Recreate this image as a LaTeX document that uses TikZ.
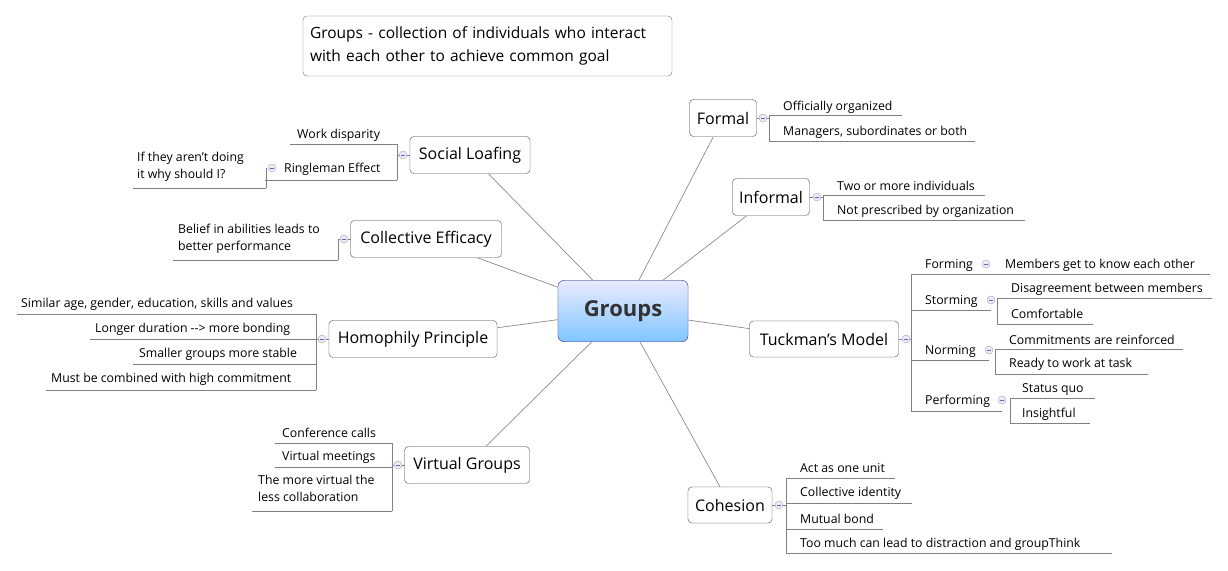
\documentclass[tikz,border=0pt]{standalone}
\usepackage{fontspec}
\setmainfont{Open Sans}
\newcommand{\apos}{{\char"27}}
\begin{document}
\begin{tikzpicture}[x=1pt,y=-1pt,
  topic/.style={draw=black!55,rounded corners=4pt,fill=white,font=\fontsize{16}{18}\selectfont,inner sep=0pt},
  item/.style={anchor=base west,font=\fontsize{12.3}{16}\selectfont,inner sep=0pt,align=left},
  ln/.style={draw=black!50,line width=0.7pt},
  col/.style={circle,draw=black!35,fill=blue!8,minimum size=8pt,inner sep=0pt,path picture={\draw[blue!50!black!60,line width=0.5pt] ([xshift=-2pt]path picture bounding box.center)--([xshift=2pt]path picture bounding box.center);}}]
\useasboundingbox (0,0) rectangle (1228,570);
\fill[white] (0,0) rectangle (1228,570);
% title
\node[draw=black!55,rounded corners=4pt,minimum width=369pt,minimum height=60pt,align=left,font=\fontsize{15.5}{23}\selectfont,text width=355pt] (title) at (487.5,46) {Groups - collection of individuals who interact\\with each other to achieve common goal};
% center
\node[draw=blue!45!black!70,rounded corners=6pt,top color=blue!8,bottom color=blue!45!cyan!50,minimum width=130pt,minimum height=61pt,font=\fontsize{22}{24}\selectfont\bfseries,text=black!80] (g) at (623,311) {Groups};
% topics
\node[topic,minimum width=67pt,minimum height=37pt] (formal) at (723,118) {Formal};
\node[topic,minimum width=77pt,minimum height=37pt] (informal) at (771,197) {Informal};
\node[topic,minimum width=149pt,minimum height=36pt] (tuck) at (824,339) {Tuckman\apos s Model};
\node[topic,minimum width=84pt,minimum height=36pt] (coh) at (730,505) {Cohesion};
\node[topic,minimum width=125pt,minimum height=37pt] (virt) at (467,465) {Virtual Groups};
\node[topic,minimum width=168pt,minimum height=37pt] (homo) at (413,339) {Homophily Principle};
\node[topic,minimum width=151pt,minimum height=37pt] (eff) at (426,239) {Collective Efficacy};
\node[topic,minimum width=120pt,minimum height=37pt] (loaf) at (470,155) {Social Loafing};
\foreach \t in {formal,informal,tuck,coh,virt,homo,eff,loaf}{\draw[ln,black!45] (g) -- (\t);}
% redraw topics on top
\node[topic,minimum width=67pt,minimum height=37pt] at (723,118) {Formal};
\node[topic,minimum width=77pt,minimum height=37pt] at (771,197) {Informal};
\node[topic,minimum width=149pt,minimum height=36pt] at (824,339) {Tuckman\apos s Model};
\node[topic,minimum width=84pt,minimum height=36pt] at (730,505) {Cohesion};
\node[topic,minimum width=125pt,minimum height=37pt] at (467,465) {Virtual Groups};
\node[topic,minimum width=168pt,minimum height=37pt] at (413,339) {Homophily Principle};
\node[topic,minimum width=151pt,minimum height=37pt] at (426,239) {Collective Efficacy};
\node[topic,minimum width=120pt,minimum height=37pt] at (470,155) {Social Loafing};
\node[draw=blue!45!black!70,rounded corners=6pt,top color=blue!8,bottom color=blue!45!cyan!50,minimum width=130pt,minimum height=61pt,font=\fontsize{22}{24}\selectfont\bfseries,text=black!80] at (623,311) {Groups};
% Formal
\draw[ln] (757,118)--(769,118) (769,115)--(769,141) (769,115)--(902,115) (769,141)--(975,141);
\node[col] (c1) at (763,118) {};
\node[item] (f1) at (783,110) {Officially organized};
\node[item] (f2) at (783,135) {Managers, subordinates or both};
% Informal
\draw[ln] (810,197)--(823,197) (823,195)--(823,220) (823,195)--(985,195) (823,220)--(1025,220);
\node[col] (c2) at (817,197) {};
\node[item] (i1) at (837,190) {Two or more individuals};
\node[item] (i2) at (837,214) {Not prescribed by organization};
% Tuckman
\draw[ln] (899,339)--(911,339) (911,274)--(911,411)
 (911,274)--(1210,274) (911,310)--(991,310) (911,360)--(989,360) (911,411)--(1002,411)
 (997,298)--(997,324) (997,298)--(1212,298) (997,324)--(1093,324)
 (995,349)--(995,374) (995,349)--(1183,349) (995,374)--(1148,374)
 (1010,398)--(1010,423) (1010,398)--(1095,398) (1010,423)--(1090,423);
\node[col] (c3) at (906,339) {};
\node[item] (t1) at (925,268) {Forming};
\node[col] (c31) at (986,264) {};
\node[item] (t11) at (1005,268) {Members get to know each other};
\node[item] (t2) at (925,304) {Storming};
\node[col] (c32) at (991,300) {};
\node[item] (t21) at (1011,292) {Disagreement between members};
\node[item] (t22) at (1011,318) {Comfortable};
\node[item] (t3) at (925,354) {Norming};
\node[col] (c33) at (989,350) {};
\node[item] (t31) at (1009,344) {Commitments are reinforced};
\node[item] (t32) at (1009,367) {Ready to work at task};
\node[item] (t4) at (925,404) {Performing};
\node[col] (c34) at (1002,400) {};
\node[item] (t41) at (1022,392) {Status quo};
\node[item] (t42) at (1022,417) {Insightful};
% Cohesion
\draw[ln] (772,505)--(786,505) (786,478)--(786,553) (786,478)--(895,478) (786,503)--(912,503) (786,529)--(883,529) (786,553)--(1112,553);
\node[col] (c4) at (779,505) {};
\node[item] (h1) at (800,472) {Act as one unit};
\node[item] (h2) at (800,496) {Collective identity};
\node[item] (h3) at (800,523) {Mutual bond};
\node[item] (h4) at (800,547) {Too much can lead to distraction and groupThink};
% Social loafing
\draw[ln] (410,155)--(397,155) (397,144)--(397,180) (290,144)--(397,144) (265,180)--(397,180)
 (266,168)--(266,188) (133,188)--(266,188);
\node[col] (c5) at (403,155) {};
\node[item] (s1) at (297,138) {Work disparity};
\node[item] (s2) at (284,172) {Ringleman Effect};
\node[col] (c51) at (272,168) {};
\node[item,anchor=north west,font=\fontsize{12.3}{17}\selectfont] (s21) at (137,152) {If they aren\apos t doing\\it why should I?};
% Collective efficacy
\draw[ln] (351,239)--(338,239) (338,239)--(338,260) (173,260)--(338,260);
\node[col] (c6) at (344,239) {};
\node[item,anchor=north west,font=\fontsize{12.3}{17}\selectfont] (e1) at (178,224) {Belief in abilities leads to\\better performance};
% Homophily
\draw[ln] (329,339)--(316,339) (316,314)--(316,390) (17,314)--(316,314) (90,339)--(316,339) (133,364)--(316,364) (46,390)--(316,390);
\node[col] (c7) at (322,339) {};
\node[item] (m1) at (21,307) {Similar age, gender, education, skills and values};
\node[item] (m2) at (95,332) {Longer duration -{}-{}> more bonding};
\node[item] (m3) at (139,357) {Smaller groups more stable};
\node[item] (m4) at (51,382) {Must be combined with high commitment};
% Virtual
\draw[ln] (405,465)--(392,465) (392,443)--(392,511) (275,443)--(392,443) (275,467)--(392,467) (252,511)--(392,511);
\node[col] (c8) at (398,465) {};
\node[item] (v1) at (282,437) {Conference calls};
\node[item] (v2) at (282,460) {Virtual meetings};
\node[item,anchor=north west,font=\fontsize{12.3}{17}\selectfont] (v3) at (258,475) {The more virtual the\\less collaboration};
\end{tikzpicture}
\end{document}
